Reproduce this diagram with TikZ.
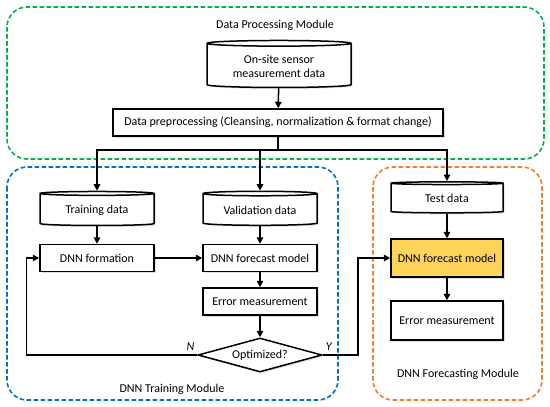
\documentclass[tikz,border=0pt]{standalone}
\usepackage{fontspec}
\setmainfont{Carlito}
\definecolor{modgreen}{RGB}{0,176,80}
\definecolor{modblue}{RGB}{0,112,192}
\definecolor{modorange}{RGB}{237,125,49}
\definecolor{fcyellow}{RGB}{255,212,90}
\usetikzlibrary{positioning}
\usetikzlibrary{shapes.geometric}
\usetikzlibrary{arrows.meta}
\usetikzlibrary{shadows}

\begin{document}
\begin{tikzpicture}[x=1pt, y=-1pt, font=\fontsize{12}{14}\selectfont,
    box/.style={draw, line width=1.5pt, fill=white, align=center, inner sep=1pt,
      drop shadow={opacity=0.25, shadow xshift=1.5pt, shadow yshift=-1.5pt}},
    datastore/.style={box, cylinder, shape border rotate=90, aspect=0.06},
    decision/.style={box, diamond, aspect=3.6, inner sep=0pt},
    module/.style={line width=1.6pt, dash pattern=on 4.5pt off 2.5pt, rounded corners=20pt},
    flow/.style={line width=1.5pt, -{Triangle[length=6.5pt, width=6.5pt]}}]
  \useasboundingbox (0,0) rectangle (550,407);

    % modules
    \draw [module, modgreen] (7,7) rectangle (544,159);
    \draw [module, modblue] (7,167) rectangle (338,400);
    \draw [module, modorange] (373,167) rectangle (542,400);
    \node (dpm) at (275,25) {Data Processing Module};
    \node (dtm) at (172,389) {DNN Training Module};
    \node (dfm) at (458,374) {DNN Forecasting Module};

    % data processing
    \node [datastore, minimum width=144pt, minimum height=47pt] (sensor) at (279,66) {On-site sensor\\measurement data};
    \node [box, minimum width=330pt, minimum height=27pt] (prep) at (278,122.5) {Data preprocessing (Cleansing, normalization \& format change)};
    \coordinate (split) at (278,150);

    % training
    \node [datastore, minimum width=114pt, minimum height=34pt] (train) at (97,210) {Training data};
    \node [datastore, minimum width=114pt, minimum height=34pt] (valid) at (260,210) {Validation data};
    \node [box, minimum width=114pt, minimum height=27pt] (form) at (97,258) {DNN formation};
    \node [box, minimum width=114pt, minimum height=27pt] (model) at (260,258) {DNN forecast model};
    \node [box, minimum width=114pt, minimum height=27pt] (err) at (260,301.5) {Error measurement};
    \node [decision, minimum width=124pt, minimum height=34pt] (opt) at (260,355) {Optimized?};

    % forecasting
    \node [datastore, minimum width=112pt, minimum height=31pt] (test) at (447,198.5) {Test data};
    \node [box, fill=fcyellow, minimum width=112pt, minimum height=38pt] (fmodel) at (447,258) {DNN forecast model};
    \node [box, minimum width=112pt, minimum height=39pt] (ferr) at (447,320.5) {Error measurement};

    \draw [flow] (sensor) -- (prep);
    \draw [line width=1.5pt] (prep.south) -- (split);
    \draw [flow] (split) -| (train.north);
    \draw [flow] (split) -| (valid.north);
    \draw [flow] (split) -| (test.north);
    \draw [flow] (train) -- (form);
    \draw [flow] (valid) -- (model);
    \draw [flow] (form) -- (model);
    \draw [flow] (model) -- (err);
    \draw [flow] (err) -- (opt);
    \draw [flow] (opt.west) -- node[above, pos=0.04, font=\fontsize{12}{14}\selectfont\itshape] {N} ++ (-171,0) |- (form.west);
    \draw [flow] (opt.east) -- node[above, pos=0.17, font=\fontsize{12}{14}\selectfont\itshape] {Y} ++ (35,0) |- (fmodel.west);
    \draw [flow] (test) -- (fmodel);
    \draw [flow] (fmodel) -- (ferr);
\end{tikzpicture}
\end{document}
